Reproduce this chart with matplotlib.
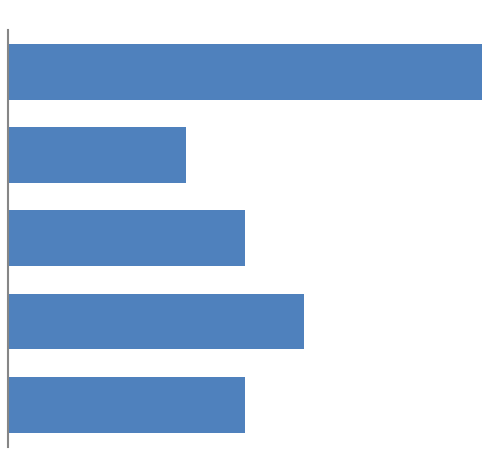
import matplotlib
matplotlib.use("Agg")
import matplotlib.pyplot as plt

# Bar values, top to bottom
categories = ["A", "B", "C", "D", "E"]
values = [8, 3, 4, 5, 4]

fig = plt.figure(figsize=(4.95, 4.72), dpi=100)
W, H = 495, 472
ax = fig.add_axes([8 / W, (H - 446.5) / H, (481.7 - 8) / W, (446.5 - 30) / H])

pos = list(range(len(categories)))
ax.barh(pos, values, height=0.67, color="#4F81BD", edgecolor="none")

ax.set_xlim(0, 8)
ax.set_ylim(len(categories) - 0.5, -0.5)

for side in ["top", "right", "bottom"]:
    ax.spines[side].set_visible(False)
ax.spines["left"].set_color("#868686")
ax.spines["left"].set_linewidth(1.5)
ax.set_xticks([])
ax.set_yticks([])

fig.savefig("out.png", dpi=100)
